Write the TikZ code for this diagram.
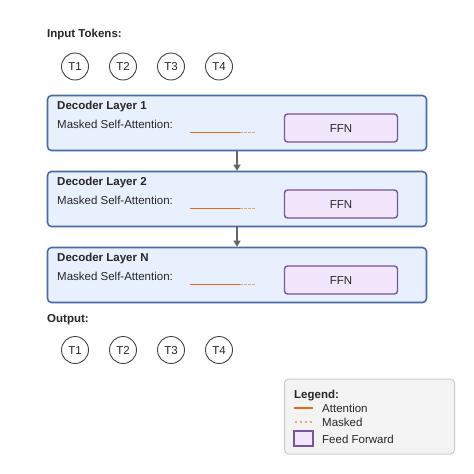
\documentclass[tikz,border=0pt]{standalone}
\usepackage{fontspec}
\setmainfont{Liberation Sans}
\usetikzlibrary{arrows.meta}
\definecolor{layerfill}{HTML}{E8F0FD}
\definecolor{layerdraw}{HTML}{4A6AA8}
\definecolor{ffnfill}{HTML}{F2E6FC}
\definecolor{ffndraw}{HTML}{7A52A0}
\definecolor{legfill}{HTML}{F3F3F3}
\definecolor{legdraw}{HTML}{CCCCCC}
\definecolor{attn}{HTML}{E06A1E}
\definecolor{maskc}{HTML}{EBA478}
\definecolor{tokdraw}{HTML}{444444}
\definecolor{arrowc}{HTML}{666666}
\tikzset{
  txt/.style={font=\fontsize{11.5}{13}\selectfont, text=black!85, inner sep=0pt, anchor=base west},
  btxt/.style={txt, font=\fontsize{11.5}{13}\selectfont\bfseries},
  token/.style={circle, draw=tokdraw, line width=0.9pt, fill=white, minimum size=27pt, inner sep=0pt, text height=8.2pt, text depth=0pt, font=\fontsize{11.5}{13}\selectfont, text=black!85},
  layer/.style={rounded corners=4pt, draw=layerdraw, line width=1.6pt, fill=layerfill, minimum width=379pt, minimum height=55pt, inner sep=0pt},
  ffnbox/.style={rounded corners=3pt, draw=ffndraw, line width=1.4pt, fill=ffnfill, minimum width=113pt, minimum height=28pt, inner sep=0pt, text height=8.2pt, text depth=0pt, font=\fontsize{11.5}{13}\selectfont, text=black!85},
  attnline/.style={draw=attn, line width=1.7pt},
  maskline/.style={draw=maskc, line width=1.5pt, dash pattern=on 2.5pt off 1.5pt},
  legmask/.style={draw=maskc, line width=1.3pt, dash pattern=on 2pt off 3pt},
  flow/.style={draw=arrowc, line width=1.3pt, -{Triangle[width=7pt,length=6pt]}},
  legendbox/.style={rounded corners=4pt, draw=legdraw, line width=1pt, fill=legfill, minimum width=170pt, minimum height=75pt, inner sep=0pt},
}
\begin{document}
\begin{tikzpicture}[x=1pt,y=-1pt]
\useasboundingbox (0,0) rectangle (474,474);
\fill[white] (0,0) rectangle (474,474);

\node[btxt] (inlbl) at (47,37.5) {Input Tokens:};
\foreach \i/\x in {1/75,2/123,3/171,4/219}{
  \node[token] (in\i) at (\x,66.5) {T\i};
}

\foreach \k/\y/\lab in {1/123/1,2/199/2,3/275/N}{
  \node[layer] (L\k) at (237,\y) {};
  \node[btxt] (L\k t) at (57,\y-14) {Decoder Layer \lab};
  \node[txt] (L\k m) at (57,\y+5.5) {Masked Self-Attention:};
  \coordinate (a\k s) at (190,\y+9.5);
  \coordinate (a\k m) at (240,\y+9.5);
  \coordinate (a\k e) at (256,\y+9.5);
  \draw[attnline] (a\k s) -- (a\k m);
  \draw[maskline] (a\k m) -- (a\k e);
  \node[ffnbox] (F\k) at (341,\y+5) {FFN};
}
\draw[flow] (L1.south) -- (L2.north);
\draw[flow] (L2.south) -- (L3.north);

\node[btxt] (outlbl) at (47,322) {Output:};
\foreach \i/\x in {1/75,2/123,3/171,4/219}{
  \node[token] (out\i) at (\x,350) {T\i};
}

\node[legendbox] (leg) at (369.5,416.5) {};
\node[btxt] (legt) at (294,398) {Legend:};
\coordinate (la1) at (294,408);
\coordinate (la2) at (313,408);
\draw[attnline] (la1) -- (la2);
\node[txt] (legA) at (322,412) {Attention};
\coordinate (lm1) at (294.5,422);
\coordinate (lm2) at (313,422);
\draw[legmask] (lm1) -- (lm2);
\node[txt] (legM) at (322,426) {Masked};
\node[draw=ffndraw, fill=ffnfill, line width=1.4pt, minimum width=19pt, minimum height=15pt, inner sep=0pt] (legF) at (303.5,438.5) {};
\node[txt] (legFt) at (322,443) {Feed Forward};
\end{tikzpicture}
\end{document}
